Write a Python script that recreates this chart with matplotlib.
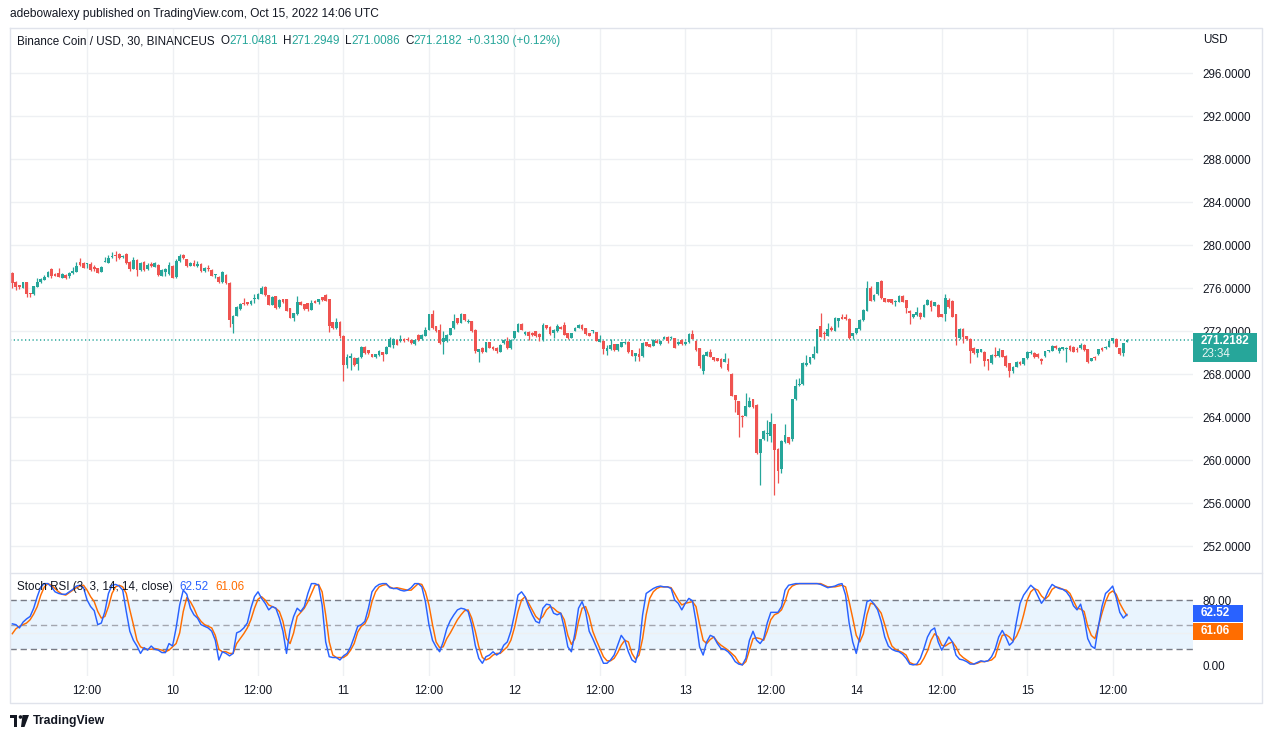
import numpy as np
import matplotlib
matplotlib.use("Agg")
import matplotlib.pyplot as plt
from matplotlib.patches import Rectangle, Circle, Polygon

plt.rcParams['font.family'] = ['Liberation Sans', 'DejaVu Sans']
plt.rcParams['lines.scale_dashes'] = False

# BNB/USD 30 min candles, Oct 9 01:30 -> Oct 15 14:00
opens = [
    277.46, 276.59, 276.31, 276.06, 276.59, 275.53, 275.47, 276.16, 276.56, 276.78,
    277.09, 277.80, 277.33, 277.46, 276.99, 277.21, 277.18, 277.40, 277.55, 278.45,
    278.39, 278.26, 278.29, 278.02, 277.86, 277.55, 278.48, 278.39, 278.95, 279.04,
    279.19, 278.92, 279.19, 278.45, 277.80, 278.64, 277.71, 278.45, 277.80, 278.26,
    278.02, 278.20, 277.18, 277.55, 277.30, 278.08, 277.09, 278.51, 279.10, 278.70,
    278.11, 278.39, 278.11, 278.30, 277.62, 277.85, 277.71, 277.22, 277.09, 276.56,
    277.24, 276.53, 272.68, 273.43, 274.05, 274.60, 274.70, 274.51, 275.04, 275.04,
    275.47, 276.16, 275.38, 274.45, 275.29, 274.29, 274.98, 275.04, 274.14, 273.27,
    273.58, 274.76, 274.54, 274.60, 273.98, 274.82, 274.76, 275.16, 275.38, 275.00,
    272.84, 272.28, 272.90, 271.60, 268.87, 269.55, 269.55, 268.93, 269.64, 270.57,
    270.26, 269.86, 269.58, 269.80, 270.05, 269.89, 270.58, 270.74, 271.21, 271.06,
    271.31, 271.31, 271.21, 270.80, 271.69, 271.28, 271.59, 272.16, 273.57, 272.47,
    272.16, 270.96, 271.06, 271.69, 272.31, 273.20, 272.79, 273.57, 272.88, 272.94,
    272.16, 270.11, 270.43, 270.11, 270.99, 270.58, 270.43, 270.11, 270.90, 271.06,
    270.43, 271.37, 271.94, 272.72, 271.75, 271.94, 271.84, 272.00, 271.75, 271.15,
    272.54, 272.41, 271.84, 272.00, 272.41, 272.54, 271.81, 271.41, 272.06, 272.34,
    272.59, 272.28, 271.81, 272.00, 271.91, 271.04, 271.13, 270.20, 270.33, 270.79,
    270.26, 270.57, 270.88, 271.04, 270.26, 269.74, 269.89, 269.71, 270.98, 270.79,
    270.67, 271.13, 270.82, 271.29, 271.50, 271.35, 271.35, 270.79, 271.19, 270.82,
    270.98, 271.75, 271.13, 270.42, 268.34, 269.74, 270.11, 269.58, 269.49, 269.43,
    269.18, 268.96, 268.03, 266.08, 265.52, 264.16, 264.16, 264.99, 265.70, 265.15,
    260.65, 261.95, 262.42, 262.29, 263.35, 261.05, 259.19, 261.67, 262.14, 261.98,
    265.67, 266.98, 267.07, 268.87, 269.02, 269.49, 270.02, 272.50, 271.81, 271.60,
    272.28, 272.06, 272.99, 273.30, 273.30, 273.15, 271.57, 271.81, 272.22, 273.05,
    273.92, 276.00, 274.91, 275.44, 276.68, 275.07, 275.00, 275.00, 274.70, 274.76,
    275.32, 274.91, 273.89, 273.30, 273.52, 273.74, 273.36, 274.45, 274.85, 274.39,
    274.45, 273.58, 273.58, 274.91, 274.82, 273.61, 271.35, 272.22, 271.57, 271.29,
    270.42, 270.02, 270.11, 270.11, 269.40, 269.09, 269.77, 269.71, 270.26, 269.71,
    269.02, 268.31, 268.71, 269.18, 268.93, 269.49, 269.95, 270.02, 269.89, 269.46,
    269.71, 270.14, 270.20, 270.67, 270.20, 270.36, 270.36, 270.64, 270.57, 270.36,
    270.48, 270.73, 270.33, 269.24, 269.64, 269.89, 270.48, 270.42, 270.57, 271.13,
    271.29, 270.42, 270.02, 271.0481,
]
highs = [
    277.55, 276.65, 276.35, 276.62, 276.62, 275.60, 276.25, 276.95, 276.92, 277.20,
    277.65, 277.85, 277.40, 277.90, 277.38, 277.30, 277.50, 278.00, 278.45, 278.80,
    278.45, 278.32, 278.45, 278.15, 277.90, 278.10, 278.95, 279.10, 279.40, 279.47,
    279.25, 279.10, 279.25, 278.50, 278.90, 278.70, 278.45, 278.50, 278.35, 278.40,
    278.45, 278.30, 277.75, 277.85, 278.40, 278.15, 278.70, 279.15, 279.20, 278.75,
    278.45, 278.60, 278.50, 278.35, 277.95, 278.20, 277.80, 277.35, 277.15, 277.60,
    277.30, 276.55, 273.50, 274.35, 274.60, 275.07, 274.75, 274.90, 275.50, 275.55,
    276.25, 276.20, 275.40, 275.30, 275.30, 275.00, 275.00, 275.05, 274.15, 273.70,
    275.30, 274.80, 274.55, 274.60, 274.90, 274.90, 275.05, 275.20, 275.50, 275.05,
    272.90, 273.20, 272.95, 271.65, 269.85, 269.95, 269.60, 269.60, 270.60, 270.60,
    270.30, 269.90, 269.90, 270.30, 270.10, 270.60, 271.46, 271.35, 271.25, 271.63,
    271.35, 271.45, 271.25, 271.25, 271.72, 271.75, 272.40, 273.60, 273.95, 272.50,
    272.72, 272.00, 271.75, 272.35, 273.60, 273.25, 273.73, 273.60, 273.10, 273.00,
    272.20, 270.40, 270.50, 271.00, 271.05, 270.60, 270.50, 270.80, 271.30, 271.50,
    271.30, 272.05, 272.75, 272.80, 272.00, 272.00, 271.90, 272.05, 271.80, 272.80,
    272.60, 272.45, 272.20, 272.70, 272.50, 272.90, 271.85, 271.85, 272.40, 272.65,
    272.65, 272.30, 271.85, 272.12, 271.95, 271.66, 271.20, 270.73, 271.29, 270.85,
    270.85, 271.05, 271.10, 271.10, 270.30, 270.00, 270.42, 271.00, 271.00, 270.85,
    271.25, 271.29, 271.20, 271.60, 271.55, 271.55, 271.40, 271.10, 271.25, 271.10,
    271.80, 272.12, 271.20, 270.45, 269.85, 270.15, 270.40, 269.65, 269.55, 269.50,
    269.96, 269.50, 268.10, 266.10, 265.55, 264.20, 266.30, 265.90, 265.75, 265.20,
    262.00, 262.80, 263.75, 264.37, 263.40, 261.10, 261.90, 263.38, 262.20, 265.70,
    267.60, 267.63, 269.10, 269.80, 269.65, 270.60, 272.25, 273.70, 272.00, 272.74,
    272.50, 273.30, 273.25, 273.61, 273.60, 273.20, 271.85, 272.35, 273.10, 274.05,
    276.68, 276.25, 275.44, 276.60, 276.78, 275.10, 275.05, 275.05, 274.91, 275.35,
    275.35, 274.95, 273.95, 273.65, 274.23, 273.80, 274.50, 275.00, 274.90, 274.75,
    274.50, 273.60, 275.44, 275.10, 274.90, 273.65, 272.30, 272.30, 271.60, 271.35,
    270.50, 270.40, 270.40, 270.15, 269.45, 269.85, 270.57, 270.42, 270.30, 269.75,
    269.05, 268.75, 269.25, 269.25, 269.55, 270.20, 270.30, 270.10, 269.95, 269.50,
    270.20, 270.30, 270.70, 270.70, 270.50, 270.55, 270.50, 270.70, 270.60, 270.57,
    270.95, 270.80, 270.40, 269.55, 269.70, 270.40, 270.50, 270.64, 271.20, 271.40,
    271.35, 270.45, 270.95, 271.2949,
]
lows = [
    276.06, 275.85, 275.95, 276.00, 275.22, 275.20, 275.40, 276.10, 276.50, 276.75,
    277.05, 277.00, 277.15, 277.05, 276.95, 276.90, 276.95, 277.35, 277.50, 278.10,
    277.85, 277.90, 277.65, 277.60, 277.40, 277.50, 278.40, 278.35, 278.85, 278.57,
    278.75, 278.80, 278.30, 277.60, 277.75, 277.10, 277.65, 277.60, 277.70, 278.00,
    277.95, 277.15, 277.15, 277.10, 277.25, 276.95, 277.00, 278.45, 278.75, 277.95,
    278.05, 278.05, 277.95, 277.55, 277.55, 277.65, 277.10, 277.00, 276.45, 276.50,
    276.40, 272.43, 271.81, 273.40, 274.00, 274.45, 274.45, 274.45, 274.60, 275.00,
    275.45, 275.30, 274.40, 274.40, 274.10, 274.15, 274.60, 273.85, 273.20, 273.00,
    273.55, 274.40, 274.00, 273.90, 273.95, 274.60, 274.50, 274.85, 274.80, 271.97,
    272.20, 272.25, 271.40, 267.38, 268.60, 268.40, 268.80, 268.40, 269.50, 269.90,
    269.90, 269.60, 269.55, 269.70, 269.23, 269.85, 270.50, 270.43, 270.70, 271.00,
    271.00, 271.10, 270.80, 270.75, 271.10, 271.20, 271.55, 272.10, 272.25, 271.95,
    270.85, 269.89, 271.00, 271.65, 272.25, 272.70, 272.75, 273.00, 272.80, 271.95,
    270.00, 269.17, 270.00, 270.05, 270.45, 270.30, 270.00, 270.05, 270.85, 270.40,
    270.40, 271.30, 271.90, 272.10, 271.70, 271.20, 271.55, 271.45, 271.10, 271.10,
    272.25, 271.70, 271.40, 271.95, 272.20, 271.65, 271.30, 271.35, 272.00, 272.30,
    272.15, 271.70, 271.55, 271.81, 271.10, 271.00, 269.86, 269.80, 270.30, 270.20,
    270.20, 270.50, 270.85, 270.00, 269.70, 269.27, 269.27, 269.65, 270.60, 270.50,
    270.60, 270.90, 270.75, 271.25, 270.95, 271.30, 270.45, 270.70, 270.75, 270.75,
    270.90, 271.25, 270.20, 268.60, 268.03, 269.70, 269.60, 269.25, 269.20, 268.60,
    269.15, 268.35, 265.95, 264.53, 262.20, 263.13, 264.10, 264.95, 264.85, 260.60,
    257.71, 261.90, 261.80, 261.70, 256.78, 257.86, 258.79, 261.60, 261.50, 261.80,
    265.60, 266.90, 267.00, 268.80, 268.95, 269.45, 269.95, 271.45, 271.30, 271.55,
    272.05, 272.00, 272.40, 273.10, 273.05, 271.30, 271.30, 271.75, 272.15, 273.00,
    273.85, 274.80, 274.85, 275.40, 275.00, 274.70, 274.70, 274.55, 274.39, 274.70,
    274.70, 273.74, 272.68, 273.20, 273.45, 273.10, 273.30, 274.40, 273.90, 274.35,
    273.30, 273.30, 272.99, 274.20, 273.30, 270.73, 271.29, 270.88, 271.20, 269.09,
    269.90, 269.64, 270.05, 268.81, 268.40, 269.00, 269.65, 269.65, 269.60, 268.70,
    267.78, 268.16, 268.65, 268.90, 268.90, 269.45, 269.90, 269.55, 269.50, 268.96,
    269.65, 270.10, 270.15, 270.35, 270.02, 270.30, 269.18, 270.20, 270.05, 270.05,
    270.40, 270.20, 269.05, 269.20, 269.30, 269.80, 270.20, 270.40, 270.50, 270.95,
    270.50, 269.80, 269.74, 271.0086,
]
closes = [
    276.53, 276.16, 276.09, 276.59, 275.44, 275.44, 276.22, 276.62, 276.87, 277.09,
    277.52, 277.18, 277.18, 277.09, 277.33, 276.99, 277.46, 277.61, 278.08, 278.17,
    277.92, 278.29, 277.71, 277.77, 277.46, 278.02, 278.57, 278.85, 279.04, 278.98,
    278.82, 279.04, 278.33, 277.80, 278.64, 277.71, 278.39, 277.71, 278.20, 278.11,
    278.33, 277.24, 277.71, 277.80, 278.20, 276.99, 278.51, 279.04, 278.79, 278.11,
    278.39, 278.11, 278.30, 277.65, 277.85, 277.75, 277.18, 277.24, 276.56, 277.55,
    276.53, 273.05, 273.43, 274.29, 274.54, 274.51, 274.51, 274.82, 275.13, 275.47,
    276.00, 275.38, 274.45, 275.22, 274.20, 274.91, 274.76, 273.92, 273.27, 273.67,
    274.73, 274.45, 274.05, 274.05, 274.67, 274.67, 274.98, 274.91, 274.85, 272.53,
    272.34, 272.90, 271.60, 268.87, 269.64, 269.70, 268.87, 269.55, 270.57, 269.95,
    269.95, 269.64, 269.86, 270.20, 269.80, 270.58, 271.31, 271.31, 270.74, 271.31,
    271.06, 271.15, 270.90, 271.21, 271.15, 271.69, 272.16, 273.57, 272.31, 272.00,
    270.90, 271.37, 271.69, 272.31, 272.98, 272.79, 273.57, 273.04, 273.00, 272.00,
    270.17, 270.33, 270.11, 270.99, 270.49, 270.36, 270.20, 270.74, 271.21, 270.43,
    271.21, 272.00, 272.72, 272.16, 271.90, 271.53, 271.62, 271.53, 271.43, 272.63,
    272.31, 271.75, 272.16, 272.47, 272.25, 271.69, 271.35, 271.81, 272.34, 272.59,
    272.22, 271.75, 271.60, 272.03, 271.13, 271.29, 270.36, 270.42, 270.73, 270.26,
    270.79, 270.98, 271.04, 270.05, 269.74, 269.95, 269.64, 270.95, 270.67, 270.57,
    271.19, 270.95, 271.13, 271.50, 271.13, 271.50, 270.48, 271.04, 270.82, 271.04,
    271.75, 271.29, 270.26, 268.81, 269.80, 270.05, 269.64, 269.33, 269.27, 268.65,
    269.40, 268.40, 266.02, 265.61, 264.22, 264.00, 265.05, 265.52, 264.93, 260.65,
    261.95, 262.73, 262.57, 263.53, 260.96, 259.04, 261.83, 262.36, 261.58, 265.67,
    266.91, 267.07, 269.02, 269.09, 269.58, 269.89, 272.22, 271.50, 271.72, 272.22,
    272.12, 273.21, 273.21, 273.15, 273.12, 271.35, 271.81, 272.28, 273.05, 273.98,
    276.00, 274.85, 275.38, 276.56, 275.07, 274.76, 274.76, 274.60, 274.73, 275.29,
    274.76, 274.14, 273.67, 273.58, 273.77, 273.36, 274.45, 274.91, 274.23, 274.70,
    273.36, 273.36, 275.13, 274.29, 273.36, 271.50, 272.22, 271.50, 271.29, 270.20,
    269.95, 270.36, 270.33, 269.27, 269.27, 269.80, 269.71, 270.20, 269.64, 268.78,
    268.34, 268.71, 269.18, 268.96, 269.49, 270.11, 270.11, 269.58, 269.58, 269.27,
    270.17, 270.26, 270.64, 270.42, 270.42, 270.51, 270.42, 270.26, 270.11, 270.26,
    270.73, 270.26, 269.12, 269.49, 269.49, 270.36, 270.26, 270.48, 271.13, 271.35,
    270.57, 269.86, 270.88, 271.2182,
]

# Stoch RSI (3, 3, 14, 14, close)
stoch_k = [
    51, 50, 46, 53, 57, 60, 70, 84, 96, 100,
    100, 96, 90, 88, 87, 87, 90, 93, 97, 98,
    95, 80, 72, 67, 50, 52, 66, 88, 98, 99,
    97, 92, 66, 42, 31, 24, 15, 22, 19, 24,
    20, 19, 16, 16, 27, 24, 46, 74, 92, 87,
    70, 62, 58, 50, 48, 46, 42, 31, 7, 17,
    15, 12, 15, 40, 42, 46, 52, 70, 84, 90,
    82, 76, 68, 72, 70, 58, 42, 15, 44, 60,
    70, 66, 72, 88, 100, 100, 98, 74, 29, 11,
    10, 10, 7, 12, 15, 23, 35, 48, 50, 54,
    70, 90, 96, 99, 100, 100, 95, 94, 94, 92,
    91, 92, 95, 100, 100, 96, 78, 50, 31, 23,
    17, 29, 45, 55, 62, 68, 70, 69, 66, 50,
    25, 9, 3, 11, 13, 17, 13, 16, 25, 29,
    42, 62, 86, 90, 84, 72, 62, 54, 52, 70,
    75, 74, 64, 62, 64, 46, 23, 17, 40, 70,
    78, 66, 42, 33, 23, 13, 3, 3, 7, 13,
    25, 37, 31, 17, 7, 4, 21, 62, 88, 91,
    94, 96, 97, 96, 96, 94, 80, 76, 68, 76,
    82, 79, 54, 23, 13, 29, 37, 35, 27, 21,
    20, 17, 12, 5, 2, 1, 9, 31, 42, 31,
    27, 33, 52, 65, 65, 65, 72, 92, 98, 99,
    100, 100, 100, 100, 100, 100, 100, 99, 97, 95,
    96, 97, 99, 100, 86, 52, 29, 15, 35, 56,
    78, 80, 75, 68, 54, 35, 24, 20, 18, 17,
    14, 9, 2, 1, 2, 9, 21, 35, 43, 46,
    29, 19, 27, 35, 29, 13, 8, 7, 5, 2,
    2, 4, 6, 5, 6, 11, 20, 35, 43, 35,
    25, 29, 54, 76, 86, 92, 98, 94, 85, 76,
    82, 92, 99, 96, 94, 93, 90, 84, 73, 68,
    75, 58, 33, 24, 21, 48, 72, 88, 92, 97,
    83, 65, 58, 62.52,
]
stoch_d = [
    39, 45, 48, 50, 52, 56, 63, 72, 86, 96,
    100, 98, 94, 90, 87, 86, 89, 92, 95, 97,
    98, 92, 84, 78, 66, 58, 60, 72, 88, 96,
    98, 96, 88, 68, 50, 31, 23, 21, 20, 20,
    21, 20, 19, 17, 19, 23, 27, 40, 66, 83,
    78, 70, 60, 54, 50, 48, 46, 37, 20, 17,
    17, 15, 15, 27, 33, 39, 46, 56, 70, 81,
    84, 80, 74, 72, 70, 66, 54, 33, 27, 40,
    60, 65, 70, 78, 88, 98, 99, 90, 62, 29,
    13, 10, 10, 10, 13, 19, 27, 41, 48, 51,
    60, 78, 90, 96, 98, 99, 96, 94, 95, 94,
    93, 92, 92, 96, 100, 99, 90, 74, 50, 29,
    22, 23, 33, 40, 48, 56, 62, 67, 68, 58,
    42, 23, 10, 7, 9, 13, 15, 15, 19, 23,
    31, 46, 66, 80, 84, 76, 68, 60, 56, 60,
    68, 72, 70, 66, 64, 56, 37, 26, 33, 54,
    70, 72, 60, 42, 31, 21, 11, 6, 6, 9,
    16, 25, 31, 29, 15, 8, 13, 33, 62, 82,
    90, 94, 96, 96, 96, 95, 88, 80, 74, 76,
    77, 78, 72, 50, 31, 27, 32, 35, 29, 25,
    22, 19, 15, 11, 4, 1, 5, 19, 33, 34,
    33, 31, 42, 56, 62, 64, 68, 78, 92, 97,
    99, 100, 100, 100, 100, 100, 100, 100, 98, 96,
    96, 96, 97, 98, 96, 78, 58, 37, 29, 39,
    62, 76, 75, 70, 64, 50, 35, 24, 20, 18,
    16, 13, 4, 2, 1, 2, 9, 18, 31, 39,
    35, 25, 24, 27, 29, 23, 14, 10, 7, 4,
    2, 3, 5, 5, 6, 7, 11, 25, 37, 38,
    35, 30, 36, 46, 62, 80, 90, 94, 92, 85,
    81, 85, 93, 96, 95, 93, 92, 88, 79, 70,
    69, 66, 48, 37, 33, 48, 64, 78, 88, 91,
    87, 76, 68, 61.06,
]

time_ticks = [21, 45, 69, 93, 117, 141, 165, 189, 213, 237, 261, 285, 309]
time_labels = ['12:00', '10', '12:00', '11', '12:00', '12', '12:00', '13',
               '12:00', '14', '12:00', '15', '12:00']
price_ticks = [252, 256, 260, 264, 268, 272, 276, 280, 284, 288, 292, 296]
last_price = 271.2182

UP = '#26a69a'
DOWN = '#ef5350'
TXT = '#131722'
GRID = '#eef0f3'
BORDER = '#e0e3eb'

W, H = 1273, 738
fig = plt.figure(figsize=(W / 100, H / 100), dpi=100)
fig.patch.set_facecolor('white')


def box(l, t, r, b):
    return [l / W, 1 - b / H, (r - l) / W, (b - t) / H]


ax = fig.add_axes(box(9.5, 28, 1193, 573))
ax2 = fig.add_axes(box(9.5, 573, 1193, 676))

n = len(closes)
x = np.arange(n)
o = np.array(opens)
c = np.array(closes)
colors = [UP if cc >= oo else DOWN for oo, cc in zip(o, c)]

ax.vlines(x, lows, highs, colors=colors, lw=0.9, zorder=3)
body_lo = np.minimum(o, c)
body_h = np.maximum(np.abs(c - o), 0.09)
ax.bar(x, body_h, bottom=body_lo, width=0.78, color=colors, lw=0, zorder=4)

ax.axhline(last_price, color=UP, lw=1.1, linestyle=(0, (0.9, 1.8)), zorder=2)

xmin, xmax = -0.79, 331.56
for a in (ax, ax2):
    a.set_xlim(xmin, xmax)
    for s in a.spines.values():
        s.set_visible(False)
    a.set_xticks(time_ticks)
    a.grid(True, color=GRID, lw=1, zorder=0)
    a.set_axisbelow(True)

ax.set_ylim(249.52, 300.21)
ax.set_yticks(price_ticks)
ax.set_yticklabels(['%.4f' % v for v in price_ticks])
ax.yaxis.tick_right()
ax.tick_params(axis='y', length=0, pad=6.5, labelsize=8.4, labelcolor=TXT)
ax.tick_params(axis='x', length=0, labelbottom=False)

# Stoch RSI pane
ax2.set_ylim(-12.5, 112.9)
ax2.axhspan(20, 80, color='#e9f4fe', lw=0, zorder=1)
ax2.axhline(40, color=GRID, lw=1, zorder=1.5)
ax2.axhline(80, color='#787b86', lw=1, dashes=(4.5, 2.8), zorder=2)
ax2.axhline(20, color='#787b86', lw=1, dashes=(4.5, 2.8), zorder=2)
ax2.axhline(50, color='#a3a6af', lw=1, dashes=(4.5, 2.8), zorder=2)
ax2.plot(x, stoch_k, color='#2962ff', lw=1.05, zorder=4)
ax2.plot(x, stoch_d, color='#ff6d00', lw=1.05, zorder=3)
ax2.set_yticks([0, 80])
ax2.set_yticklabels(['0.00', '80.00'])
ax2.yaxis.tick_right()
ax2.tick_params(axis='y', length=0, pad=6.5, labelsize=8.4, labelcolor=TXT)
ax2.set_xticklabels(time_labels)
ax2.tick_params(axis='x', length=0, pad=6.5, labelsize=8.4, labelcolor=TXT)
ax2.yaxis.grid(False)

# overlay in pixel coordinates
ov = fig.add_axes([0, 0, 1, 1], zorder=10)
ov.set_xlim(0, W)
ov.set_ylim(H, 0)
ov.axis('off')

ov.plot([9.5, 1262, 1262, 9.5, 9.5], [28, 28, 703, 703, 28], color=BORDER, lw=1)
ov.plot([9.5, 1262], [573, 573], color=BORDER, lw=1)

renderer = fig.canvas.get_renderer()


def chain(parts, x0, y, size=8.4):
    xc = x0
    for txt, col, gap in parts:
        t = ov.text(xc, y, txt, color=col, fontsize=size, va='center', ha='left')
        bb = t.get_window_extent(renderer)
        xc += bb.width + gap


ov.text(10, 14, 'adebowalexy published on TradingView.com, Oct 15, 2022 14:06 UTC',
        color=TXT, fontsize=8.6, va='center', ha='left')

chain([('Binance Coin / USD, 30, BINANCEUS', TXT, 6),
       ('O', TXT, 0), ('271.0481', UP, 5),
       ('H', TXT, 0), ('271.2949', UP, 5),
       ('L', TXT, 0), ('271.0086', UP, 5),
       ('C', TXT, 0), ('271.2182', UP, 5),
       ('+0.3130 (+0.12%)', UP, 0)], 17, 41)

chain([('Stoch RSI (3, 3, 14, 14, close)', TXT, 7),
       ('62.52', '#2962ff', 6),
       ('61.06', '#ff6d00', 0)], 17, 587)

ov.text(1203, 40, 'USD', color=TXT, fontsize=8.4, va='center', ha='left')

# last price tag (covers the 272 label as in the original)
ov.add_patch(Rectangle((1193, 333), 64, 29, color=UP, lw=0))
ov.text(1201, 341, '271.2182', color='white', fontsize=8.4, fontweight='bold',
        va='center', ha='left')
ov.text(1201, 354, '23:34', color='#e6f4f2', fontsize=8.4, va='center', ha='left')

# stoch value tags
ov.add_patch(Rectangle((1193, 605), 50, 17, color='#2962ff', lw=0))
ov.text(1201, 613.5, '62.52', color='white', fontsize=8.4, fontweight='bold',
        va='center', ha='left')
ov.add_patch(Rectangle((1193, 623), 50, 17, color='#ff6d00', lw=0))
ov.text(1201, 631.5, '61.06', color='white', fontsize=8.4, fontweight='bold',
        va='center', ha='left')

# TradingView logo
ov.add_patch(Rectangle((10, 715), 7, 3, color=TXT, lw=0))
ov.add_patch(Rectangle((14, 715), 3, 12, color=TXT, lw=0))
ov.add_patch(Circle((20.5, 717), 1.8, color=TXT, lw=0))
ov.add_patch(Polygon([(22.5, 715), (29, 715), (24.5, 727), (21, 727)], color=TXT, lw=0))
ov.text(33, 721, 'TradingView', color=TXT, fontsize=8.8, fontweight='bold',
        va='center', ha='left')

fig.savefig('out.png', dpi=100, facecolor='white')
